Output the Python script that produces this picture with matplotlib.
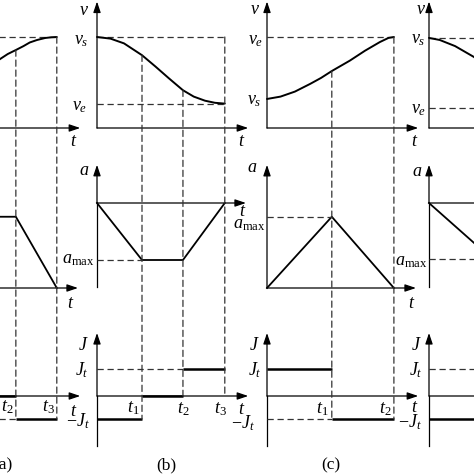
import matplotlib
matplotlib.use('Agg')
import matplotlib.pyplot as plt
from matplotlib.patches import ConnectionPatch

plt.rcParams['font.family'] = ['Liberation Serif', 'DejaVu Serif']
plt.rcParams['mathtext.fontset'] = 'custom'
plt.rcParams['mathtext.rm'] = 'Liberation Serif'
plt.rcParams['mathtext.it'] = 'Liberation Serif:italic'

# ---- data (time in units, values in relative units) ----
# switching instants t0, t1, t2, t3 for each case
ts_a = [0, 1.0, 1.93, 2.84]
ts_b = [0, 1.0, 1.91, 2.84]
ts_c = [0, 1.44, 2.82]
ts_d = [0, 1.2]

# velocity curves v(t)
vt_a = [1.49, 1.58, 1.75, 1.93, 2.1, 2.24, 2.4, 2.58, 2.72, 2.84]
vv_a = [0.725, 0.758, 0.813, 0.857, 0.90, 0.94, 0.967, 0.989, 0.997, 1.0]
vt_b = [0, 0.3, 0.6, 1.0, 1.3, 1.6, 1.91, 2.15, 2.4, 2.62, 2.84]
vv_b = [1.0, 0.982, 0.93, 0.80, 0.675, 0.545, 0.415, 0.345, 0.30, 0.277, 0.268]
vt_c = [0, 0.3, 0.62, 0.96, 1.2, 1.44, 1.84, 2.18, 2.51, 2.7, 2.82]
vv_c = [0.319, 0.345, 0.40, 0.485, 0.55, 0.626, 0.74, 0.85, 0.945, 0.99, 1.0]
vt_d = [0, 0.24, 0.58, 1.0, 1.2]
vv_d = [0.99, 0.967, 0.90, 0.78, 0.70]

# velocity levels (v_s / v_e)
vlev_a = [1.0]
vlev_b = [1.0, 0.264]
vlev_c = [1.0]
vlev_d = [0.99, 0.22]

# acceleration profiles
acc_a = [0, 1.25, 1.25, 0]
acc_b = [0, -1.0, -1.0, 0]
acc_c = [0, 1.25, 0]
acc_d = [0, -0.84]
amax_b = -1.0
amax_c = 1.25
amax_d = -0.98

# jerk levels
J_hi = 1.08
J_lo = -0.92
jerk_a = [J_hi, 0, J_lo]
jerk_b = [J_lo, 0, J_hi]
jerk_c = [J_hi, J_lo]
jerk_d = [J_lo]

# ---- layout (pixels) ----
W = 474
PX_T = 45
T_TIP = 3.36
x0 = {'a': -71, 'b': 97, 'c': 267, 'd': 429}

fig = plt.figure(figsize=(4.74, 4.74), dpi=100)


def panel(x_org, y_org, sy):
    ax = fig.add_axes([0, 0, 1, 1])
    ax.set_xlim(-x_org / PX_T, (W - x_org) / PX_T)
    ax.set_ylim((y_org - W) / sy, y_org / sy)
    ax.axis('off')
    ax.patch.set_visible(False)
    return ax


def arrow(ax, start, end):
    ax.annotate('', xy=end, xytext=start, annotation_clip=False,
                arrowprops=dict(arrowstyle='-|>,head_length=0.65,head_width=0.22',
                                lw=0.9, color='k', shrinkA=0, shrinkB=0,
                                mutation_scale=10))


def dash(ax, xs, ys):
    ax.plot(xs, ys, ls=(0, (5, 3)), lw=0.9, color='#333333', clip_on=False)


def lab(ax, text, xy, dx, dy, ha='center', size=13):
    ax.annotate(text, xy, xytext=(dx, -dy), textcoords='offset pixels',
                ha=ha, va='center', fontsize=size, annotation_clip=False)


cols = ['a', 'b', 'c', 'd']
ax_v = {c: panel(x0[c], 128, 91) for c in cols}
ax_a = {'a': panel(x0['a'], 288, 57), 'b': panel(x0['b'], 203, 57),
        'c': panel(x0['c'], 288, 57), 'd': panel(x0['d'], 203, 57)}
ax_j = {c: panel(x0[c], 396, 25) for c in cols}

# ---- velocity row ----
v_data = {'a': (vt_a, vv_a, vlev_a, ts_a), 'b': (vt_b, vv_b, vlev_b, ts_b),
          'c': (vt_c, vv_c, vlev_c, ts_c), 'd': (vt_d, vv_d, vlev_d, ts_d)}
for c in cols:
    ax = ax_v[c]
    vt, vv, levs, ts = v_data[c]
    arrow(ax, (0, 0), (T_TIP, 0))
    arrow(ax, (0, 0), (0, 1.39))
    for lv in levs:
        dash(ax, [0, ts[-1]], [lv, lv])
    ax.plot(vt, vv, color='k', lw=1.4, solid_capstyle='round')

lab(ax_v['a'], '$t$', (T_TIP, 0), -7, 14)
lab(ax_v['b'], '$v$', (0, 1.39), -13, 9)
lab(ax_v['b'], '$v_s$', (0, 1.0), -8, 3, 'right')
lab(ax_v['b'], '$v_e$', (0, 0.264), -10, 3, 'right')
lab(ax_v['b'], '$t$', (T_TIP, 0), -7, 14)
lab(ax_v['c'], '$v$', (0, 1.39), -12, 8)
lab(ax_v['c'], '$v_e$', (0, 1.0), -4, 3, 'right')
lab(ax_v['c'], '$v_s$', (0, 0.319), -5, 2, 'right')
lab(ax_v['c'], '$t$', (T_TIP, 0), -4, 14)
lab(ax_v['d'], '$v$', (0, 1.39), -8, 8)
lab(ax_v['d'], '$v_s$', (0, 0.99), -3, 2, 'right')
lab(ax_v['d'], '$v_e$', (0, 0.22), -3, 2, 'right')

# ---- acceleration row ----
a_data = {'a': (ts_a, acc_a), 'b': (ts_b, acc_b), 'c': (ts_c, acc_c), 'd': (ts_d, acc_d)}
a_axis = {'a': (-1.47, 0.67), 'b': (-1.47, 0.67), 'c': (0, 2.16), 'd': (-1.47, 0.67)}
for c in cols:
    ax = ax_a[c]
    ts, acc = a_data[c]
    arrow(ax, (0, 0), (3.31, 0))
    lo, hi = a_axis[c]
    ax.plot([0, 0], [lo, 0], color='k', lw=0.9)
    arrow(ax, (0, 0), (0, hi))
    ax.plot(ts, acc, color='k', lw=1.3)

dash(ax_a['b'], [0, ts_b[1]], [amax_b, amax_b])
dash(ax_a['c'], [0, ts_c[1]], [amax_c, amax_c])
dash(ax_a['d'], [0, ts_d[1]], [amax_d, amax_d])

lab(ax_a['a'], '$t$', (3.31, 0), -7, 15)
lab(ax_a['b'], '$a$', (0, 0.67), -13, 6)
lab(ax_a['b'], r'$a_{\mathrm{max}}$', (0, amax_b), -2, 0, 'right')
lab(ax_a['b'], '$t$', (3.31, 0), -3, 9)
lab(ax_a['c'], '$a$', (0, 2.16), -15, 3)
lab(ax_a['c'], r'$a_{\mathrm{max}}$', (0, amax_c), -1, 8, 'right')
lab(ax_a['c'], '$t$', (3.31, 0), -4, 15)
lab(ax_a['d'], '$a$', (0, 0.67), -12, 7)
lab(ax_a['d'], r'$a_{\mathrm{max}}$', (0, amax_d), -1, 3, 'right')

# ---- jerk row ----
j_data = {'a': (ts_a, jerk_a), 'b': (ts_b, jerk_b), 'c': (ts_c, jerk_c), 'd': (ts_d, jerk_d)}
for c in cols:
    ax = ax_j[c]
    ts, jk = j_data[c]
    arrow(ax, (0, 0), (T_TIP, 0))
    ax.plot([0, 0], [-2.0, 0], color='k', lw=0.9)
    arrow(ax, (0, 0), (0, 2.52))
    ax.hlines(jk, ts[:-1], ts[1:], color='k', lw=1.8)

dash(ax_j['a'], [0, ts_a[2]], [J_lo, J_lo])
dash(ax_j['b'], [0, ts_b[2]], [J_hi, J_hi])
dash(ax_j['c'], [0, ts_c[1]], [J_lo, J_lo])
dash(ax_j['d'], [0, ts_d[1]], [J_hi, J_hi])

lab(ax_j['a'], '$t$', (T_TIP, 0), -7, 15)
lab(ax_j['a'], '$t_2$', (ts_a[2], 0), -2, 11, 'right')
lab(ax_j['a'], '$t_3$', (ts_a[3], 0), -2, 11, 'right')
lab(ax_j['b'], '$J$', (0, 2.52), -14, 13)
lab(ax_j['b'], '$J_t$', (0, J_hi), -8, 1, 'right')
lab(ax_j['b'], '$-J_t$', (0, J_lo), -7, 2, 'right')
lab(ax_j['b'], '$t_1$', (ts_b[1], 0), -2, 12, 'right')
lab(ax_j['b'], '$t_2$', (ts_b[2], 0), 0, 13)
lab(ax_j['b'], '$t_3$', (ts_b[3], 0), -4, 13)
lab(ax_j['b'], '$t$', (T_TIP, 0), -7, 14)
lab(ax_j['c'], '$J$', (0, 2.52), -13, 12)
lab(ax_j['c'], '$J_t$', (0, J_hi), -5, 1, 'right')
lab(ax_j['c'], '$-J_t$', (0, J_lo), -12, 4, 'right')
lab(ax_j['c'], '$t_1$', (ts_c[1], 0), -3, 13, 'right')
lab(ax_j['c'], '$t_2$', (ts_c[2], 0), -2, 13, 'right')
lab(ax_j['c'], '$t$', (T_TIP, 0), -4, 12)
lab(ax_j['d'], '$J$', (0, 2.52), -13, 12)
lab(ax_j['d'], '$J_t$', (0, J_hi), -6, 1, 'right')
lab(ax_j['d'], '$-J_t$', (0, J_lo), -7, 3, 'right')

# ---- vertical dashed guides from the v curve down to the jerk row ----
guides = {
    'a': [(ts_a[1], 0.60, J_lo), (ts_a[2], 0.857, J_lo), (ts_a[3], 1.0, J_lo)],
    'b': [(ts_b[1], 0.80, J_lo), (ts_b[2], 0.415, 0), (ts_b[3], 1.0, 0)],
    'c': [(ts_c[1], 0.626, J_lo), (ts_c[2], 1.0, J_lo)],
}
for c, lines in guides.items():
    for t, vtop, jbot in lines:
        con = ConnectionPatch(xyA=(t, vtop), coordsA=ax_v[c].transData,
                              xyB=(t, jbot), coordsB=ax_j[c].transData,
                              ls=(0, (5, 3)), lw=0.9, color='#333333')
        fig.add_artist(con)

# case labels
for name, xc in [('(a)', 3), ('(b)', 166), ('(c)', 331)]:
    fig.text(xc / W, 1 - 465 / W, name, ha='center', va='center', fontsize=12.5)

fig.savefig('out.png', dpi=100)
